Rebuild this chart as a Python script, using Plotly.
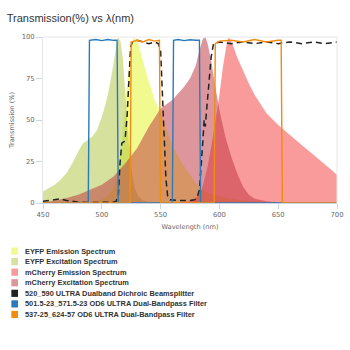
import plotly.graph_objects as go

# ---------------- data ----------------
series_names = [
    "EYFP Emission Spectrum",
    "EYFP Excitation Spectrum",
    "mCherry Emission Spectrum",
    "mCherry Excitation Spectrum",
    "520_590 ULTRA Dualband Dichroic Beamsplitter",
    "501.5-23_571.5-23 OD6 ULTRA Dual-Bandpass Filter",
    "537-25_624-57 OD6 ULTRA Dual-Bandpass Filter",
]

eyfp_em_wl = [490, 495, 500, 505, 510, 513, 516, 519, 522, 525, 527, 530, 533, 536, 540, 545, 550,
              555, 560, 565, 570, 575, 580, 585, 590, 600, 610, 620, 630, 640, 650]
eyfp_em_val = [0.5, 1, 2, 4, 9, 16, 30, 52, 75, 92, 100, 98, 91, 83, 73, 62, 55,
               44, 35, 28, 22, 17, 12, 8, 6, 4, 2.5, 1.5, 1, 0.5, 0]

eyfp_ex_wl = [450, 455, 460, 465, 470, 475, 480, 484, 488, 492, 496, 500, 503, 506, 509, 512, 514,
              516, 518, 520, 522, 524, 526, 528, 531, 535, 540, 550]
eyfp_ex_val = [7, 9, 11, 14, 18, 24, 31, 36, 38, 40, 44, 52, 59, 68, 80, 93, 100,
               97, 86, 66, 45, 28, 16, 9, 4, 1.5, 0.5, 0]

mch_em_wl = [560, 570, 575, 580, 585, 590, 595, 600, 603, 606, 608, 611, 615, 620, 625, 630, 640,
             650, 660, 670, 680, 690, 700]
mch_em_val = [0, 0.5, 1, 3, 8, 22, 42, 65, 82, 95, 100, 96, 88, 80, 72, 65, 54,
              47, 41, 35, 29, 23, 17]

mch_ex_wl = [450, 460, 470, 480, 490, 500, 510, 520, 530, 540, 550, 560, 570, 575, 580, 583, 586,
             588, 590, 593, 596, 600, 605, 610, 615, 620, 625, 630, 640, 650, 660]
mch_ex_val = [0.5, 1.5, 3, 5, 8, 11, 16, 24, 33, 46, 57, 62, 70, 75, 83, 92, 99,
              100, 96, 86, 72, 56, 40, 28, 18, 10, 5, 2.5, 1, 0.3, 0]

dichroic_wl = [450, 455, 460, 465, 470, 475, 480, 490, 500, 510, 512, 514, 515.5, 517, 519, 520,
               521.5, 523, 524.5, 526, 530, 535, 540, 545, 548, 550, 551.5, 553, 554.5, 556, 558,
               565, 570, 575, 579, 581, 583, 585, 586, 587, 588, 589, 591, 593, 595, 600, 610, 620,
               630, 640, 650, 660, 670, 680, 690, 700]
dichroic_val = [1, 1.5, 2, 2.5, 1.5, 1, 0.5, 0.3, 0.3, 0.5, 1, 4, 24, 36, 37, 40,
                52, 75, 94, 97, 98, 97, 96, 97, 96, 92, 66, 38, 15, 4, 2,
                1.5, 1.5, 1.5, 2, 3, 8, 25, 38, 50, 46, 55, 72, 88, 96, 97, 96, 97,
                96, 97, 96, 97, 96, 97, 96, 97]

blue_wl = [450, 488.5, 489.5, 495, 500, 505, 510, 513, 514, 560, 561, 565, 570, 575, 580, 583, 584, 700]
blue_val = [0, 0, 98, 98.5, 97.8, 98.5, 98, 98, 0, 0, 98, 98.5, 97.8, 98.3, 98, 98, 0, 0]

orange_wl = [450, 524, 525, 530, 535, 540, 545, 549, 550, 595.5, 596.5, 600, 610, 620, 630, 640,
             650, 652.5, 653.5, 700]
orange_val = [0, 0, 97, 98, 97, 98.5, 97.5, 98, 0, 0, 96, 97.5, 98, 97, 98.5, 97, 98, 98, 0, 0]

x_ticks = [450, 500, 550, 600, 650, 700]
y_ticks = [0, 25, 50, 75, 100]

# ---------------- style ----------------
area_colors = [
    "rgba(228,245,30,0.5)",
    "rgba(171,195,57,0.5)",
    "rgba(245,55,55,0.5)",
    "rgba(190,45,60,0.5)",
]
line_colors = ["#222222", "#2b7bba", "#f08c10"]

FONT = "DejaVu Sans"

fig = go.Figure()

areas = [(eyfp_em_wl, eyfp_em_val), (eyfp_ex_wl, eyfp_ex_val),
         (mch_em_wl, mch_em_val), (mch_ex_wl, mch_ex_val)]
for (wl, val), name, col in zip(areas, series_names[:4], area_colors):
    fig.add_trace(go.Scatter(x=wl, y=val, name=name, mode="none", fill="tozeroy",
                             fillcolor=col, showlegend=False, hoverinfo="skip"))

fig.add_trace(go.Scatter(x=dichroic_wl, y=dichroic_val, name=series_names[4], mode="lines",
                         line=dict(color=line_colors[0], width=1.5, dash="6px,4px"),
                         showlegend=False))
fig.add_trace(go.Scatter(x=blue_wl, y=blue_val, name=series_names[5], mode="lines",
                         line=dict(color=line_colors[1], width=1.4), showlegend=False))
fig.add_trace(go.Scatter(x=orange_wl, y=orange_val, name=series_names[6], mode="lines",
                         line=dict(color=line_colors[2], width=1.4), showlegend=False))

# ---------------- layout ----------------
W, H = 350, 350
ML, MR, MT, MB = 43, 7, 37, 146.5
pw, ph = W - ML - MR, H - MT - MB


def px2paper_x(px):
    return (px - ML) / pw


def px2paper_y(py):
    return (H - MB - py) / ph


fig.update_layout(
    width=W, height=H,
    margin=dict(l=ML, r=MR, t=MT, b=MB, pad=0),
    paper_bgcolor="white", plot_bgcolor="white",
    showlegend=False,
    title=dict(text="Transmission(%) vs λ(nm)", x=6.7 / W, xanchor="left",
               y=1 - 18.3 / H, yanchor="middle", xref="container", yref="container",
               font=dict(family="Liberation Sans", size=11, color="#333333")),
    font=dict(family=FONT, color="#666666"),
)

fig.update_xaxes(range=[450, 700], tickvals=x_ticks, ticks="outside", ticklen=5,
                 tickcolor="#ccd6eb", showline=True, linecolor="#ccd6eb", mirror=False,
                 showgrid=False, zeroline=False,
                 tickfont=dict(family=FONT, size=6.8, color="#666666"),
                 title=dict(text="Wavelength (nm)", font=dict(family=FONT, size=6.6, color="#666666"),
                            standoff=6))
fig.update_yaxes(range=[0, 100], tickvals=y_ticks, ticks="outside", ticklen=6,
                 tickcolor="#ccd6eb", showline=True, linecolor="#e6e6e6", mirror=False,
                 showgrid=False, zeroline=False,
                 tickfont=dict(family=FONT, size=6.8, color="#666666"),
                 title=dict(text="Transmission (%)", font=dict(family=FONT, size=6.6, color="#666666"),
                            standoff=6))

# light frame at top and right
fig.add_shape(type="line", xref="paper", yref="paper", x0=0, x1=1, y0=1, y1=1,
              line=dict(color="#e6e6e6", width=1))
fig.add_shape(type="line", xref="paper", yref="paper", x0=1, x1=1, y0=0, y1=1,
              line=dict(color="#e6e6e6", width=1))

# ---------------- legend (drawn as swatches + text) ----------------
swatch_colors = area_colors + line_colors
row0, row_gap = 251.7, 10.6
for i, (name, col) in enumerate(zip(series_names, swatch_colors)):
    cy = row0 + i * row_gap
    fig.add_shape(type="rect", xref="paper", yref="paper",
                  x0=px2paper_x(10.7), x1=px2paper_x(17.5),
                  y0=px2paper_y(cy + 3.6), y1=px2paper_y(cy - 3.6),
                  fillcolor=col, line=dict(width=0))
    fig.add_annotation(text="<b>" + name + "</b>", xref="paper", yref="paper",
                       x=px2paper_x(22.3), y=px2paper_y(cy), xanchor="left", yanchor="middle",
                       showarrow=False,
                       font=dict(family="Liberation Sans", size=7.4, color="#333333"))

fig.write_html("out.html")
